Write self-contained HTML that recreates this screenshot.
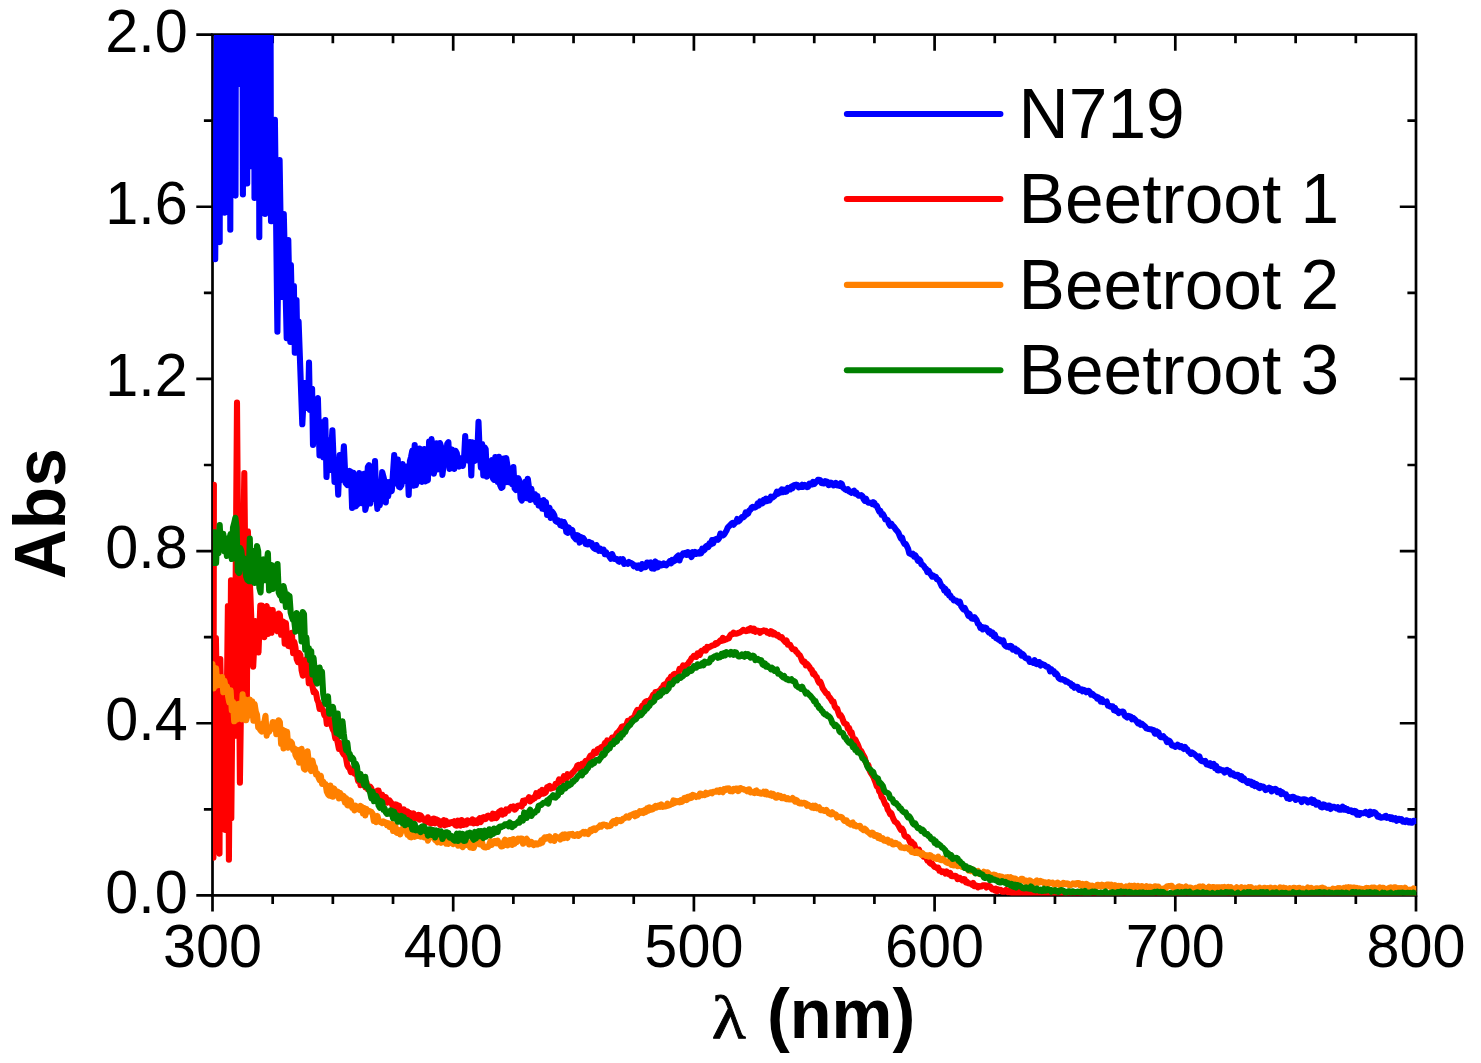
<!DOCTYPE html>
<html lang="en"><head><meta charset="utf-8"><title>UV-Vis absorbance: N719 vs Beetroot</title>
<style>html,body{margin:0;padding:0;background:#fff}svg{display:block}text{font-family:"Liberation Sans",Arial,Helvetica,sans-serif;fill:#000}.c{fill:none;stroke-width:6.1;stroke-linejoin:round;stroke-linecap:round}.lg{fill:none;stroke-width:6.1;stroke-linecap:round}</style></head><body>
<svg width="1481" height="1063" viewBox="0 0 1481 1063">
<rect width="1481" height="1063" fill="#fff"/>
<defs><clipPath id="fr"><rect x="212.90" y="35.00" width="1203.40" height="860.40"/></clipPath></defs>
<g fill="none" stroke="#000" stroke-width="2.7"><rect x="212.50" y="34.60" width="1203.50" height="860.80"/>
<path stroke-width="2.7" stroke-linecap="butt" d="M212.50 895.40 v16.20 M272.68 895.40 v8.60 M272.68 34.60 v8.60 M332.85 895.40 v8.60 M332.85 34.60 v8.60 M393.02 895.40 v8.60 M393.02 34.60 v8.60 M453.20 895.40 v16.20 M453.20 34.60 v16.20 M513.38 895.40 v8.60 M513.38 34.60 v8.60 M573.55 895.40 v8.60 M573.55 34.60 v8.60 M633.73 895.40 v8.60 M633.73 34.60 v8.60 M693.90 895.40 v16.20 M693.90 34.60 v16.20 M754.08 895.40 v8.60 M754.08 34.60 v8.60 M814.25 895.40 v8.60 M814.25 34.60 v8.60 M874.42 895.40 v8.60 M874.42 34.60 v8.60 M934.60 895.40 v16.20 M934.60 34.60 v16.20 M994.77 895.40 v8.60 M994.77 34.60 v8.60 M1054.95 895.40 v8.60 M1054.95 34.60 v8.60 M1115.12 895.40 v8.60 M1115.12 34.60 v8.60 M1175.30 895.40 v16.20 M1175.30 34.60 v16.20 M1235.47 895.40 v8.60 M1235.47 34.60 v8.60 M1295.65 895.40 v8.60 M1295.65 34.60 v8.60 M1355.83 895.40 v8.60 M1355.83 34.60 v8.60 M1416.00 895.40 v16.20 M212.50 895.40 h-16.20 M212.50 809.32 h-8.60 M1416.00 809.32 h-8.60 M212.50 723.24 h-16.20 M1416.00 723.24 h-16.20 M212.50 637.16 h-8.60 M1416.00 637.16 h-8.60 M212.50 551.08 h-16.20 M1416.00 551.08 h-16.20 M212.50 465.00 h-8.60 M1416.00 465.00 h-8.60 M212.50 378.92 h-16.20 M1416.00 378.92 h-16.20 M212.50 292.84 h-8.60 M1416.00 292.84 h-8.60 M212.50 206.76 h-16.20 M1416.00 206.76 h-16.20 M212.50 120.68 h-8.60 M1416.00 120.68 h-8.60 M212.50 34.60 h-16.20"/></g>
<g clip-path="url(#fr)">
<path class="c" stroke="#0000ff" d="M216.8 64.5 L215.2 259.2 L217.5 -30.0 L219.1 -30.0 L219.7 242.1 L220.3 -40.0 L224.0 -70.0 L224.6 212.8 L225.2 -80.0 L229.7 -45.0 L230.3 229.8 L230.9 -55.0 L234.9 -90.0 L235.5 195.6 L236.1 -100.0 L238.6 -25.0 L239.2 84.0 L239.8 -35.0 L242.3 -60.0 L242.9 194.4 L243.5 -70.0 L246.6 -30.0 L247.2 183.4 L247.8 -40.0 L250.3 -70.0 L250.9 166.3 L251.5 -80.0 L253.9 -45.0 L254.5 197.9 L255.1 -55.0 L258.7 -90.0 L259.3 237.2 L259.9 -100.0 L264.5 -25.0 L265.1 213.9 L265.7 -35.0 L270.4 -60.0 L271.0 221.3 L274.9 119.8 L277.4 331.6 L279.6 160.0 L281.8 297.0 L283.8 214.0 L286.7 338.2 L288.3 240.0 L290.3 342.0 L290.9 265.0 L292.5 335.0 L293.9 286.0 L294.8 352.8 L296.5 300.0 L297.3 345.0 L298.6 321.5 L302.3 424.3 L304.5 383.0 L306.6 408.0 L308.2 404.0 L309.0 362.6 L309.9 410.0 L312.1 388.7 L313.0 445.0 L315.5 415.0 L317.9 398.1 L319.5 455.4 L321.3 422.0 L323.4 457.3 L325.3 420.0 L326.5 477.0 L328.5 440.0 L330.0 470.0 L332.4 430.3 L334.5 482.0 L337.0 469.0 L338.2 494.6 L339.7 455.0 L341.5 480.0 L343.9 446.3 L345.6 483.0 L347.3 484.9 L348.5 474.2 L349.7 471.0 L350.9 472.1 L352.1 507.9 L353.3 472.7 L354.5 499.2 L355.7 506.3 L356.9 504.7 L358.1 503.9 L359.3 473.1 L360.5 481.9 L361.7 503.1 L362.9 498.6 L364.1 473.7 L365.3 509.9 L366.5 504.5 L367.8 467.1 L369.0 465.1 L370.2 503.5 L371.4 483.6 L372.6 470.3 L373.8 498.9 L375.0 461.1 L376.2 496.3 L377.4 508.9 L378.6 492.6 L379.8 505.2 L381.0 489.9 L382.2 472.1 L383.4 476.5 L384.6 481.6 L385.8 502.4 L387.0 482.1 L388.2 496.3 L389.4 482.1 L390.6 491.5 L391.8 490.9 L393.0 472.7 L394.2 455.1 L395.4 483.5 L396.6 474.2 L397.8 459.6 L399.0 486.9 L400.2 487.3 L401.4 485.3 L402.7 464.1 L403.9 473.9 L405.1 477.6 L406.3 481.3 L407.5 466.3 L408.7 494.9 L409.9 461.0 L411.1 456.7 L412.3 450.5 L413.5 485.7 L414.7 445.1 L415.9 485.1 L417.1 475.3 L418.3 481.4 L419.5 448.5 L420.7 480.6 L421.9 481.8 L423.1 475.1 L424.3 449.1 L425.5 481.4 L426.7 475.9 L427.9 480.2 L429.1 441.5 L430.3 447.2 L431.5 439.1 L432.7 450.3 L433.9 473.6 L435.1 461.4 L436.4 443.3 L437.6 469.4 L438.8 448.8 L440.0 443.1 L441.2 447.0 L442.4 474.9 L443.6 465.7 L444.8 449.7 L446.0 463.5 L447.2 444.0 L448.4 442.1 L449.6 468.9 L450.8 458.6 L452.0 449.6 L453.2 459.1 L454.4 468.9 L455.6 450.8 L456.8 453.1 L458.0 461.5 L459.2 466.6 L460.4 458.3 L461.6 462.4 L462.8 465.9 L464.0 459.5 L465.2 436.1 L466.4 459.8 L467.6 454.0 L468.8 460.8 L470.0 442.1 L471.3 475.4 L472.5 442.4 L473.7 443.0 L474.9 460.9 L476.1 444.1 L477.3 453.6 L478.5 421.9 L479.7 452.3 L480.9 467.6 L482.1 444.1 L483.3 475.4 L484.5 447.2 L485.7 449.1 L486.9 476.6 L488.1 462.8 L489.3 465.8 L490.5 462.4 L491.7 460.3 L492.9 478.3 L494.1 479.9 L495.3 457.1 L496.5 475.4 L497.7 482.0 L498.9 456.9 L500.1 485.0 L501.3 487.9 L502.5 487.2 L503.7 458.5 L505.0 482.4 L506.2 458.1 L507.4 465.6 L508.6 482.1 L509.8 480.9 L511.0 472.9 L512.2 484.2 L513.4 467.1 L514.6 488.4 L515.8 489.9 L517.0 480.3 L518.2 478.2 L519.4 480.6 L520.6 498.4 L521.8 500.6 L523.0 497.2 L524.2 487.8 L525.4 481.5 L526.6 498.1 L527.8 478.7 L529.0 487.3 L530.2 499.9 L531.4 488.9 L532.6 499.1 L533.8 497.1 L535.0 494.1 L536.2 502.3 L537.4 496.1 L538.6 505.6 L539.9 505.9 L541.1 501.1 L542.3 508.7 L543.5 500.1 L544.7 509.1 L545.9 502.1 L547.1 515.0 L548.3 512.5 L549.5 507.6 L550.7 518.0 L551.9 511.6 L553.1 513.0 L554.3 515.2 L555.5 521.0 L556.7 521.8 L557.9 520.2 L559.1 522.0 L560.3 525.2 L561.5 521.3 L562.7 526.2 L563.9 522.0 L565.1 524.6 L566.3 532.0 L567.5 532.8 L568.7 527.4 L569.9 531.9 L571.1 532.6 L572.3 530.0 L573.5 536.4 L574.8 537.8 L576.0 539.4 L577.2 535.1 L578.4 535.9 L579.6 542.6 L580.8 536.9 L582.0 540.3 L583.2 538.0 L584.4 539.7 L585.6 544.0 L586.8 544.2 L588.0 544.4 L589.2 542.0 L590.4 542.9 L591.6 543.0 L592.8 546.8 L594.0 548.2 L595.2 549.0 L596.4 545.0 L597.6 548.0 L598.8 550.8 L600.0 548.4 L601.2 550.9 L602.4 550.1 L603.6 549.6 L604.8 554.1 L606.0 552.1 L607.2 554.6 L608.5 554.7 L609.7 557.0 L610.9 558.8 L612.1 554.0 L613.3 556.9 L614.5 559.0 L615.7 558.7 L616.9 558.9 L618.1 561.1 L619.3 561.7 L620.5 559.3 L621.7 560.3 L622.9 559.2 L624.1 564.0 L625.3 562.3 L626.5 563.0 L627.7 563.8 L628.9 562.0 L630.1 562.9 L631.3 563.1 L632.5 563.8 L633.7 566.2 L634.9 565.4 L636.1 565.5 L637.3 567.8 L638.5 565.4 L639.7 567.7 L640.9 568.7 L642.1 564.0 L643.4 567.3 L644.6 565.5 L645.8 566.9 L647.0 562.5 L648.2 562.7 L649.4 563.0 L650.6 562.5 L651.8 568.5 L653.0 564.2 L654.2 568.7 L655.4 561.4 L656.6 564.7 L657.8 567.3 L659.0 563.5 L660.2 563.9 L661.4 565.4 L662.6 565.0 L663.8 563.5 L665.0 565.1 L666.2 565.4 L667.4 563.8 L668.6 562.8 L669.8 561.2 L671.0 563.4 L672.2 559.9 L673.4 561.4 L674.6 560.8 L675.8 558.0 L677.1 556.6 L678.3 555.6 L679.5 560.5 L680.7 555.7 L681.9 555.9 L683.1 553.4 L684.3 553.3 L685.5 552.8 L686.7 554.9 L687.9 552.1 L689.1 553.0 L690.3 555.1 L691.5 557.0 L692.7 552.2 L693.9 554.3 L695.1 551.9 L696.3 553.9 L697.5 552.9 L698.7 553.5 L699.9 551.6 L701.1 553.3 L702.3 548.6 L703.5 550.6 L704.7 549.6 L705.9 546.4 L707.1 545.7 L708.3 547.0 L709.5 543.3 L710.7 544.6 L712.0 540.0 L713.2 543.4 L714.4 539.8 L715.6 539.1 L716.8 538.8 L718.0 539.7 L719.2 538.0 L720.4 533.5 L721.6 535.2 L722.8 535.5 L724.0 534.7 L725.2 532.8 L726.4 530.8 L727.6 527.8 L728.8 526.4 L730.0 525.4 L731.2 523.9 L732.4 523.0 L733.6 524.7 L734.8 523.1 L736.0 522.3 L737.2 519.0 L738.4 521.4 L739.6 520.5 L740.8 518.8 L742.0 517.1 L743.2 517.4 L744.4 516.4 L745.7 512.4 L746.9 514.3 L748.1 513.5 L749.3 510.5 L750.5 509.7 L751.7 507.4 L752.9 506.8 L754.1 507.6 L755.3 507.4 L756.5 506.5 L757.7 503.3 L758.9 505.3 L760.1 501.4 L761.3 501.8 L762.5 503.2 L763.7 499.8 L764.9 501.5 L766.1 498.6 L767.3 501.1 L768.5 499.2 L769.7 500.3 L770.9 496.7 L772.1 497.6 L773.3 497.1 L774.5 496.0 L775.7 494.6 L776.9 491.7 L778.1 493.7 L779.3 491.5 L780.6 492.3 L781.8 489.3 L783.0 492.2 L784.2 489.8 L785.4 491.8 L786.6 491.5 L787.8 488.0 L789.0 489.1 L790.2 489.5 L791.4 486.6 L792.6 488.1 L793.8 485.2 L795.0 484.9 L796.2 484.6 L797.4 484.9 L798.6 487.3 L799.8 486.9 L801.0 486.9 L802.2 484.8 L803.4 486.7 L804.6 484.9 L805.8 486.2 L807.0 487.2 L808.2 486.8 L809.4 483.6 L810.6 483.9 L811.8 484.5 L813.0 481.8 L814.2 484.1 L815.5 482.5 L816.7 481.4 L817.9 479.9 L819.1 479.8 L820.3 480.2 L821.5 483.0 L822.7 483.3 L823.9 483.5 L825.1 481.2 L826.3 481.6 L827.5 481.8 L828.7 485.2 L829.9 484.7 L831.1 482.6 L832.3 483.5 L833.5 485.4 L834.7 484.5 L835.9 482.9 L837.1 485.5 L838.3 485.4 L839.5 485.8 L840.7 483.2 L841.9 484.2 L843.1 487.7 L844.3 488.6 L845.5 489.6 L846.7 490.2 L847.9 489.2 L849.2 491.5 L850.4 492.1 L851.6 492.8 L852.8 491.5 L854.0 490.6 L855.2 493.6 L856.4 492.7 L857.6 494.8 L858.8 495.7 L860.0 495.5 L861.2 495.1 L862.4 496.1 L863.6 499.2 L864.8 500.8 L866.0 498.7 L867.2 501.6 L868.4 502.7 L869.6 502.8 L870.8 502.7 L872.0 504.0 L873.2 502.1 L874.4 503.0 L875.6 505.6 L876.8 505.7 L878.0 508.8 L879.2 511.5 L880.4 511.0 L881.6 514.7 L882.8 513.9 L884.1 516.3 L885.3 519.5 L886.5 519.6 L887.7 520.1 L888.9 523.7 L890.1 525.7 L891.3 523.7 L892.5 525.6 L893.7 526.6 L894.9 528.2 L896.1 529.9 L897.3 531.2 L898.5 532.8 L899.7 535.9 L900.9 538.5 L902.1 537.6 L903.3 541.8 L904.5 543.9 L905.7 543.9 L906.9 546.2 L908.1 548.8 L909.3 553.4 L910.5 553.8 L911.7 554.5 L912.9 553.7 L914.1 556.6 L915.3 555.2 L916.5 557.2 L917.8 560.8 L919.0 559.3 L920.2 560.4 L921.4 564.4 L922.6 564.8 L923.8 565.9 L925.0 568.1 L926.2 568.9 L927.4 572.2 L928.6 570.7 L929.8 573.0 L931.0 574.6 L932.2 576.6 L933.4 575.7 L934.6 576.9 L935.8 576.7 L937.0 579.4 L938.2 579.7 L939.4 581.1 L940.6 583.9 L941.8 586.6 L943.0 586.7 L944.2 590.3 L945.4 588.8 L946.6 592.8 L947.8 591.4 L949.0 595.4 L950.2 595.3 L951.4 597.9 L952.7 598.3 L953.9 600.4 L955.1 600.6 L956.3 600.6 L957.5 602.0 L958.7 603.0 L959.9 601.8 L961.1 606.0 L962.3 607.8 L963.5 609.4 L964.7 607.9 L965.9 610.6 L967.1 612.5 L968.3 615.8 L969.5 613.8 L970.7 617.3 L971.9 618.6 L973.1 618.9 L974.3 617.1 L975.5 618.5 L976.7 620.3 L977.9 623.6 L979.1 624.3 L980.3 627.9 L981.5 626.9 L982.7 629.4 L983.9 627.4 L985.1 627.6 L986.4 628.1 L987.6 630.5 L988.8 632.4 L990.0 631.2 L991.2 633.9 L992.4 632.4 L993.6 636.1 L994.8 634.4 L996.0 638.2 L997.2 638.4 L998.4 639.6 L999.6 639.5 L1000.8 641.3 L1002.0 640.9 L1003.2 640.4 L1004.4 644.8 L1005.6 645.9 L1006.8 646.7 L1008.0 646.1 L1009.2 647.2 L1010.4 645.8 L1011.6 646.3 L1012.8 649.6 L1014.0 648.4 L1015.2 648.6 L1016.4 651.4 L1017.6 650.3 L1018.8 651.7 L1020.0 651.9 L1021.3 655.6 L1022.5 653.9 L1023.7 655.1 L1024.9 657.5 L1026.1 658.4 L1027.3 658.7 L1028.5 658.5 L1029.7 662.0 L1030.9 661.7 L1032.1 662.2 L1033.3 662.9 L1034.5 660.1 L1035.7 663.6 L1036.9 664.1 L1038.1 662.3 L1039.3 662.1 L1040.5 665.5 L1041.7 663.7 L1042.9 664.5 L1044.1 664.8 L1045.3 665.7 L1046.5 666.8 L1047.7 666.9 L1048.9 667.7 L1050.1 671.4 L1051.3 669.2 L1052.5 671.4 L1053.7 671.0 L1055.0 674.2 L1056.2 673.4 L1057.4 674.9 L1058.6 678.0 L1059.8 679.0 L1061.0 679.5 L1062.2 679.0 L1063.4 680.0 L1064.6 680.1 L1065.8 681.7 L1067.0 681.3 L1068.2 682.3 L1069.4 683.1 L1070.6 683.5 L1071.8 685.9 L1073.0 685.3 L1074.2 687.7 L1075.4 687.1 L1076.6 686.7 L1077.8 687.0 L1079.0 689.9 L1080.2 690.1 L1081.4 689.5 L1082.6 691.3 L1083.8 689.9 L1085.0 690.3 L1086.2 692.2 L1087.4 691.0 L1088.6 690.8 L1089.9 692.0 L1091.1 694.7 L1092.3 693.8 L1093.5 694.9 L1094.7 696.2 L1095.9 696.2 L1097.1 698.5 L1098.3 697.4 L1099.5 698.5 L1100.7 701.5 L1101.9 699.2 L1103.1 702.1 L1104.3 701.8 L1105.5 702.0 L1106.7 701.5 L1107.9 705.6 L1109.1 705.6 L1110.3 706.7 L1111.5 706.4 L1112.7 706.3 L1113.9 710.2 L1115.1 708.0 L1116.3 711.1 L1117.5 710.9 L1118.7 713.1 L1119.9 711.9 L1121.1 712.2 L1122.3 711.5 L1123.5 711.9 L1124.8 715.7 L1126.0 716.6 L1127.2 717.5 L1128.4 715.9 L1129.6 716.3 L1130.8 716.6 L1132.0 719.3 L1133.2 717.9 L1134.4 719.0 L1135.6 720.2 L1136.8 721.7 L1138.0 723.3 L1139.2 722.4 L1140.4 724.7 L1141.6 723.6 L1142.8 724.7 L1144.0 725.7 L1145.2 726.7 L1146.4 728.3 L1147.6 728.7 L1148.8 729.0 L1150.0 729.2 L1151.2 729.2 L1152.4 730.1 L1153.6 730.0 L1154.8 733.5 L1156.0 731.1 L1157.2 733.7 L1158.5 732.4 L1159.7 735.9 L1160.9 737.3 L1162.1 737.2 L1163.3 736.2 L1164.5 738.0 L1165.7 738.5 L1166.9 742.0 L1168.1 740.2 L1169.3 740.7 L1170.5 742.3 L1171.7 745.2 L1172.9 745.8 L1174.1 745.6 L1175.3 746.8 L1176.5 746.4 L1177.7 744.7 L1178.9 745.5 L1180.1 747.0 L1181.3 746.2 L1182.5 747.7 L1183.7 748.9 L1184.9 746.9 L1186.1 748.5 L1187.3 749.3 L1188.5 751.6 L1189.7 752.2 L1190.9 753.9 L1192.1 752.5 L1193.4 753.3 L1194.6 754.3 L1195.8 755.4 L1197.0 756.8 L1198.2 757.8 L1199.4 756.5 L1200.6 760.4 L1201.8 761.1 L1203.0 760.8 L1204.2 761.7 L1205.4 761.0 L1206.6 764.4 L1207.8 763.5 L1209.0 765.1 L1210.2 763.3 L1211.4 766.0 L1212.6 765.3 L1213.8 764.0 L1215.0 768.1 L1216.2 765.9 L1217.4 770.3 L1218.6 770.5 L1219.8 769.2 L1221.0 769.9 L1222.2 770.5 L1223.4 770.3 L1224.6 772.6 L1225.8 770.4 L1227.1 769.8 L1228.3 771.8 L1229.5 771.2 L1230.7 774.4 L1231.9 773.4 L1233.1 773.2 L1234.3 775.7 L1235.5 776.1 L1236.7 774.8 L1237.9 774.8 L1239.1 777.4 L1240.3 778.7 L1241.5 776.3 L1242.7 780.2 L1243.9 778.3 L1245.1 780.5 L1246.3 781.6 L1247.5 782.8 L1248.7 781.3 L1249.9 783.2 L1251.1 781.6 L1252.3 784.9 L1253.5 782.6 L1254.7 786.0 L1255.9 784.0 L1257.1 784.7 L1258.3 787.2 L1259.5 788.1 L1260.7 786.0 L1262.0 787.4 L1263.2 786.7 L1264.4 787.7 L1265.6 790.1 L1266.8 789.3 L1268.0 788.7 L1269.2 787.7 L1270.4 788.2 L1271.6 791.4 L1272.8 789.1 L1274.0 790.0 L1275.2 788.8 L1276.4 789.4 L1277.6 792.3 L1278.8 792.1 L1280.0 791.1 L1281.2 794.2 L1282.4 792.3 L1283.6 793.6 L1284.8 794.3 L1286.0 794.4 L1287.2 798.1 L1288.4 796.9 L1289.6 798.9 L1290.8 798.3 L1292.0 797.0 L1293.2 796.7 L1294.4 797.7 L1295.7 799.9 L1296.9 798.5 L1298.1 798.8 L1299.3 799.2 L1300.5 799.7 L1301.7 802.1 L1302.9 799.3 L1304.1 799.3 L1305.3 799.5 L1306.5 800.2 L1307.7 802.4 L1308.9 801.8 L1310.1 800.3 L1311.3 799.4 L1312.5 802.8 L1313.7 800.1 L1314.9 801.6 L1316.1 804.6 L1317.3 802.6 L1318.5 802.8 L1319.7 805.2 L1320.9 806.9 L1322.1 807.3 L1323.3 804.4 L1324.5 804.7 L1325.7 807.0 L1326.9 807.7 L1328.1 805.5 L1329.3 805.6 L1330.6 809.0 L1331.8 806.7 L1333.0 806.7 L1334.2 806.8 L1335.4 807.8 L1336.6 808.4 L1337.8 807.3 L1339.0 809.8 L1340.2 809.8 L1341.4 809.7 L1342.6 806.7 L1343.8 809.6 L1345.0 807.9 L1346.2 809.9 L1347.4 809.2 L1348.6 811.0 L1349.8 810.5 L1351.0 810.4 L1352.2 812.0 L1353.4 812.4 L1354.6 810.9 L1355.8 811.2 L1357.0 814.7 L1358.2 812.7 L1359.4 814.9 L1360.6 813.1 L1361.8 813.3 L1363.0 813.3 L1364.2 812.9 L1365.5 812.0 L1366.7 813.5 L1367.9 812.7 L1369.1 815.0 L1370.3 811.7 L1371.5 814.1 L1372.7 812.9 L1373.9 812.0 L1375.1 812.5 L1376.3 814.0 L1377.5 816.5 L1378.7 815.7 L1379.9 817.4 L1381.1 817.7 L1382.3 817.4 L1383.5 817.3 L1384.7 816.4 L1385.9 815.9 L1387.1 817.8 L1388.3 817.2 L1389.5 817.1 L1390.7 818.9 L1391.9 817.4 L1393.1 819.4 L1394.3 819.6 L1395.5 818.3 L1396.7 820.8 L1397.9 819.0 L1399.2 818.8 L1400.4 820.0 L1401.6 819.2 L1402.8 821.7 L1404.0 821.2 L1405.2 822.0 L1406.4 820.3 L1407.6 820.6 L1408.8 822.4 L1410.0 821.3 L1411.2 822.8 L1412.4 822.7 L1413.6 820.8 L1414.8 821.1 L1416.0 821.0"/>
<path class="c" stroke="#ff0000" d="M213.9 484.8 L213.4 857.8 L215.9 638.0 L219.5 853.6 L220.3 659.0 L223.2 800.0 L224.0 680.0 L225.3 830.0 L227.9 606.0 L228.9 859.7 L231.0 580.4 L231.3 818.2 L233.5 580.4 L234.5 736.0 L237.0 402.5 L239.9 782.7 L244.3 473.0 L246.8 712.0 L247.9 531.3 L253.2 666.7 L255.4 621.0 L258.5 652.4 L260.3 605.6 L261.8 605.6 L263.0 612.1 L264.3 637.2 L265.5 614.1 L266.7 606.0 L267.9 634.0 L269.1 617.4 L270.3 609.8 L271.5 632.8 L272.7 610.0 L273.9 627.5 L275.1 615.0 L276.3 615.4 L277.5 631.2 L278.7 613.5 L279.9 615.0 L281.1 634.8 L282.3 623.6 L283.5 621.8 L284.7 643.7 L285.9 623.0 L287.1 637.9 L288.3 646.1 L289.5 646.3 L290.7 636.9 L291.9 632.8 L293.1 653.1 L294.3 641.8 L295.5 647.7 L296.7 659.1 L297.9 662.1 L299.2 653.1 L300.4 654.9 L301.6 670.4 L302.8 675.7 L304.0 661.3 L305.2 670.6 L306.4 659.1 L307.6 667.4 L308.8 683.2 L310.0 673.1 L311.2 678.1 L312.4 686.1 L313.6 692.2 L314.8 691.3 L316.0 693.0 L317.2 699.8 L318.4 702.4 L319.6 709.0 L320.8 704.9 L322.0 708.3 L323.2 710.6 L324.4 715.2 L325.6 713.5 L326.8 724.0 L328.0 715.0 L329.2 719.4 L330.4 723.9 L331.6 725.6 L332.9 729.7 L334.1 731.6 L335.3 738.5 L336.5 738.3 L337.7 742.6 L338.9 749.0 L340.1 743.0 L341.3 749.1 L342.5 752.5 L343.7 754.6 L344.9 754.1 L346.1 758.5 L347.3 765.3 L348.5 767.5 L349.7 768.5 L350.9 772.3 L352.1 772.1 L353.3 770.3 L354.5 773.6 L355.7 772.7 L356.9 774.8 L358.1 781.0 L359.3 776.7 L360.5 785.2 L361.7 778.7 L362.9 782.0 L364.1 782.2 L365.3 787.3 L366.5 782.2 L367.8 789.1 L369.0 786.3 L370.2 786.7 L371.4 788.5 L372.6 792.7 L373.8 793.3 L375.0 793.8 L376.2 793.0 L377.4 790.5 L378.6 790.5 L379.8 796.5 L381.0 798.0 L382.2 794.7 L383.4 798.2 L384.6 798.7 L385.8 797.1 L387.0 802.7 L388.2 800.7 L389.4 800.3 L390.6 802.0 L391.8 803.8 L393.0 806.9 L394.2 807.7 L395.4 804.3 L396.6 804.7 L397.8 810.0 L399.0 805.7 L400.2 811.2 L401.4 810.3 L402.7 813.0 L403.9 809.5 L405.1 812.0 L406.3 815.4 L407.5 811.5 L408.7 816.7 L409.9 812.9 L411.1 816.1 L412.3 817.3 L413.5 813.4 L414.7 819.0 L415.9 815.4 L417.1 815.3 L418.3 814.9 L419.5 819.7 L420.7 815.4 L421.9 817.1 L423.1 819.4 L424.3 820.1 L425.5 821.8 L426.7 822.1 L427.9 817.3 L429.1 822.7 L430.3 822.9 L431.5 823.4 L432.7 818.7 L433.9 818.6 L435.1 823.3 L436.4 819.4 L437.6 820.1 L438.8 820.7 L440.0 824.9 L441.2 824.9 L442.4 821.3 L443.6 820.3 L444.8 825.3 L446.0 820.8 L447.2 824.3 L448.4 822.5 L449.6 823.7 L450.8 822.2 L452.0 822.1 L453.2 823.4 L454.4 821.3 L455.6 825.5 L456.8 825.7 L458.0 820.7 L459.2 824.5 L460.4 825.5 L461.6 820.1 L462.8 825.0 L464.0 824.7 L465.2 821.3 L466.4 824.4 L467.6 820.5 L468.8 821.9 L470.0 822.6 L471.3 822.7 L472.5 819.3 L473.7 823.4 L474.9 820.3 L476.1 821.1 L477.3 823.1 L478.5 819.6 L479.7 818.2 L480.9 822.0 L482.1 817.7 L483.3 817.2 L484.5 819.2 L485.7 819.0 L486.9 816.4 L488.1 815.6 L489.3 817.0 L490.5 816.1 L491.7 818.7 L492.9 813.7 L494.1 818.1 L495.3 814.2 L496.5 818.0 L497.7 815.9 L498.9 811.9 L500.1 811.2 L501.3 810.5 L502.5 814.7 L503.7 811.8 L505.0 813.5 L506.2 809.4 L507.4 810.3 L508.6 810.6 L509.8 808.3 L511.0 806.9 L512.2 807.7 L513.4 806.4 L514.6 809.7 L515.8 808.8 L517.0 806.4 L518.2 805.6 L519.4 806.0 L520.6 805.4 L521.8 806.4 L523.0 800.8 L524.2 803.5 L525.4 800.2 L526.6 799.8 L527.8 799.4 L529.0 797.1 L530.2 801.3 L531.4 800.1 L532.6 799.7 L533.8 797.3 L535.0 798.0 L536.2 793.2 L537.4 793.8 L538.6 796.0 L539.9 791.7 L541.1 793.8 L542.3 789.8 L543.5 793.5 L544.7 793.1 L545.9 792.1 L547.1 787.2 L548.3 786.8 L549.5 785.9 L550.7 788.6 L551.9 788.2 L553.1 787.9 L554.3 787.6 L555.5 783.9 L556.7 784.0 L557.9 782.7 L559.1 779.4 L560.3 780.7 L561.5 782.0 L562.7 780.0 L563.9 776.2 L565.1 778.1 L566.3 778.9 L567.5 774.2 L568.7 776.5 L569.9 775.1 L571.1 774.9 L572.3 772.8 L573.5 771.8 L574.8 770.2 L576.0 768.8 L577.2 765.8 L578.4 764.9 L579.6 768.2 L580.8 767.4 L582.0 763.9 L583.2 765.7 L584.4 763.2 L585.6 760.9 L586.8 762.1 L588.0 761.1 L589.2 758.0 L590.4 755.7 L591.6 756.1 L592.8 755.4 L594.0 751.7 L595.2 752.9 L596.4 753.0 L597.6 749.1 L598.8 748.8 L600.0 748.4 L601.2 747.2 L602.4 747.6 L603.6 747.0 L604.8 743.2 L606.0 744.4 L607.2 740.5 L608.5 742.6 L609.7 741.4 L610.9 740.6 L612.1 737.6 L613.3 738.2 L614.5 737.0 L615.7 735.6 L616.9 732.9 L618.1 732.7 L619.3 730.6 L620.5 729.1 L621.7 726.9 L622.9 726.4 L624.1 728.0 L625.3 726.4 L626.5 724.5 L627.7 720.9 L628.9 722.0 L630.1 721.1 L631.3 718.5 L632.5 718.4 L633.7 717.2 L634.9 715.2 L636.1 712.1 L637.3 709.9 L638.5 711.5 L639.7 709.9 L640.9 708.8 L642.1 705.9 L643.4 706.4 L644.6 702.7 L645.8 701.6 L647.0 701.1 L648.2 701.0 L649.4 700.9 L650.6 699.2 L651.8 697.7 L653.0 694.8 L654.2 695.9 L655.4 692.0 L656.6 692.1 L657.8 691.7 L659.0 691.0 L660.2 690.5 L661.4 688.2 L662.6 687.9 L663.8 684.6 L665.0 684.3 L666.2 684.0 L667.4 682.0 L668.6 679.7 L669.8 680.1 L671.0 676.6 L672.2 678.4 L673.4 674.6 L674.6 673.8 L675.8 675.2 L677.1 674.3 L678.3 673.1 L679.5 668.9 L680.7 669.8 L681.9 668.6 L683.1 665.4 L684.3 666.9 L685.5 665.9 L686.7 664.8 L687.9 664.0 L689.1 661.9 L690.3 660.7 L691.5 658.2 L692.7 657.6 L693.9 655.8 L695.1 656.1 L696.3 656.9 L697.5 653.4 L698.7 653.3 L699.9 654.8 L701.1 651.2 L702.3 650.5 L703.5 650.6 L704.7 648.9 L705.9 650.5 L707.1 646.9 L708.3 647.9 L709.5 646.9 L710.7 646.5 L712.0 645.6 L713.2 645.4 L714.4 645.1 L715.6 643.1 L716.8 643.8 L718.0 642.8 L719.2 641.7 L720.4 640.4 L721.6 640.9 L722.8 637.8 L724.0 640.2 L725.2 639.3 L726.4 639.4 L727.6 638.4 L728.8 638.4 L730.0 635.7 L731.2 634.2 L732.4 634.3 L733.6 632.6 L734.8 633.6 L736.0 633.8 L737.2 633.6 L738.4 632.7 L739.6 632.6 L740.8 631.9 L742.0 631.0 L743.2 629.8 L744.4 630.4 L745.7 631.1 L746.9 631.0 L748.1 629.5 L749.3 630.4 L750.5 628.2 L751.7 628.6 L752.9 630.9 L754.1 628.6 L755.3 631.8 L756.5 631.3 L757.7 630.5 L758.9 631.3 L760.1 632.9 L761.3 631.1 L762.5 631.3 L763.7 630.4 L764.9 630.8 L766.1 630.9 L767.3 632.7 L768.5 632.8 L769.7 633.7 L770.9 631.2 L772.1 631.9 L773.3 634.4 L774.5 633.0 L775.7 634.5 L776.9 635.7 L778.1 635.0 L779.3 637.1 L780.6 637.6 L781.8 637.1 L783.0 639.5 L784.2 640.8 L785.4 642.1 L786.6 640.6 L787.8 644.6 L789.0 644.3 L790.2 645.0 L791.4 647.5 L792.6 649.3 L793.8 649.3 L795.0 649.5 L796.2 651.7 L797.4 652.6 L798.6 654.5 L799.8 655.3 L801.0 657.8 L802.2 660.9 L803.4 662.3 L804.6 661.6 L805.8 665.3 L807.0 663.9 L808.2 665.3 L809.4 666.8 L810.6 669.3 L811.8 669.8 L813.0 673.9 L814.2 673.2 L815.5 676.0 L816.7 677.1 L817.9 680.5 L819.1 682.7 L820.3 681.7 L821.5 684.7 L822.7 688.3 L823.9 690.1 L825.1 691.8 L826.3 693.5 L827.5 693.7 L828.7 696.5 L829.9 697.7 L831.1 699.5 L832.3 701.7 L833.5 701.5 L834.7 706.2 L835.9 708.0 L837.1 708.5 L838.3 712.4 L839.5 715.6 L840.7 715.2 L841.9 717.1 L843.1 720.5 L844.3 723.4 L845.5 723.8 L846.7 724.3 L847.9 728.6 L849.2 728.2 L850.4 733.1 L851.6 732.3 L852.8 737.3 L854.0 739.6 L855.2 739.3 L856.4 741.9 L857.6 744.2 L858.8 747.2 L860.0 750.7 L861.2 750.9 L862.4 753.6 L863.6 755.7 L864.8 758.0 L866.0 762.7 L867.2 765.0 L868.4 765.1 L869.6 770.4 L870.8 773.0 L872.0 774.6 L873.2 776.6 L874.4 779.5 L875.6 782.5 L876.8 786.4 L878.0 786.6 L879.2 791.3 L880.4 792.3 L881.6 797.0 L882.8 798.2 L884.1 801.4 L885.3 804.5 L886.5 805.0 L887.7 809.6 L888.9 811.2 L890.1 814.2 L891.3 813.3 L892.5 816.6 L893.7 819.6 L894.9 821.7 L896.1 822.4 L897.3 823.4 L898.5 825.5 L899.7 827.9 L900.9 829.8 L902.1 828.8 L903.3 830.8 L904.5 835.4 L905.7 836.7 L906.9 836.5 L908.1 837.6 L909.3 840.4 L910.5 842.8 L911.7 841.7 L912.9 843.8 L914.1 844.0 L915.3 847.7 L916.5 849.0 L917.8 849.9 L919.0 849.6 L920.2 853.0 L921.4 852.9 L922.6 855.2 L923.8 856.8 L925.0 857.0 L926.2 857.5 L927.4 860.5 L928.6 859.4 L929.8 863.0 L931.0 864.0 L932.2 863.7 L933.4 865.6 L934.6 867.0 L935.8 867.0 L937.0 868.2 L938.2 867.7 L939.4 870.8 L940.6 870.9 L941.8 872.1 L943.0 871.4 L944.2 871.7 L945.4 873.5 L946.6 871.4 L947.8 873.1 L949.0 874.3 L950.2 873.0 L951.4 876.0 L952.7 876.3 L953.9 875.9 L955.1 875.7 L956.3 876.3 L957.5 879.2 L958.7 877.8 L959.9 877.8 L961.1 879.3 L962.3 880.3 L963.5 879.1 L964.7 879.3 L965.9 882.4 L967.1 881.8 L968.3 883.3 L969.5 883.5 L970.7 883.7 L971.9 884.7 L973.1 882.9 L974.3 886.1 L975.5 885.2 L976.7 885.8 L977.9 887.3 L979.1 886.0 L980.3 886.6 L981.5 886.4 L982.7 885.4 L983.9 885.4 L985.1 885.4 L986.4 887.5 L987.6 885.7 L988.8 886.1 L990.0 886.3 L991.2 888.0 L992.4 889.4 L993.6 888.9 L994.8 890.4 L996.0 888.8 L997.2 891.3 L998.4 889.5 L999.6 890.4 L1000.8 889.8 L1002.0 891.7 L1003.2 891.4 L1004.4 891.7 L1005.6 890.1 L1006.8 890.1 L1008.0 892.2 L1009.2 890.6 L1010.4 892.5 L1011.6 892.9 L1012.8 891.3 L1014.0 893.2 L1015.2 893.0 L1016.4 893.4 L1017.6 891.5 L1018.8 893.7 L1020.0 891.7 L1021.3 892.5 L1022.5 892.0 L1023.7 893.9 L1024.9 893.7 L1026.1 894.0 L1027.3 894.0 L1028.5 893.7 L1029.7 893.3 L1030.9 893.2 L1032.1 893.8 L1033.3 894.2 L1034.5 893.2 L1035.7 893.3 L1036.9 894.8 L1038.1 893.4 L1039.3 895.2 L1040.5 893.7 L1041.7 895.5 L1042.9 894.9 L1044.1 895.4 L1045.3 894.7 L1046.5 895.7 L1047.7 895.2 L1048.9 893.8 L1050.1 895.7 L1051.3 896.0 L1052.5 894.4 L1053.7 895.1 L1055.0 896.4 L1056.2 896.4 L1057.4 896.2 L1058.6 895.3 L1059.8 896.1 L1061.0 894.6 L1062.2 896.1 L1063.4 894.8 L1064.6 896.5 L1065.8 895.0 L1067.0 895.1 L1068.2 895.0 L1069.4 895.1 L1070.6 895.8 L1071.8 895.5 L1073.0 896.5 L1074.2 895.1 L1075.4 895.1 L1076.6 896.4 L1077.8 895.4 L1079.0 896.8 L1080.2 897.0 L1081.4 897.4 L1082.6 895.9 L1083.8 896.0 L1085.0 896.4 L1086.2 896.7 L1087.4 895.9 L1088.6 897.0 L1089.9 896.2 L1091.1 896.2 L1092.3 896.3 L1093.5 897.5 L1094.7 896.9 L1095.9 896.8 L1097.1 896.0 L1098.3 897.9 L1099.5 896.1 L1100.7 897.0 L1101.9 897.5 L1103.1 896.2 L1104.3 897.5 L1105.5 896.7 L1106.7 896.8 L1107.9 897.6 L1109.1 895.8 L1110.3 895.8 L1111.5 896.1 L1112.7 895.6 L1113.9 895.6 L1115.1 896.5 L1116.3 896.7 L1117.5 897.2 L1118.7 896.3 L1119.9 896.2 L1121.1 898.1 L1122.3 896.3 L1123.5 897.4 L1124.8 896.8 L1126.0 896.2 L1127.2 897.8 L1128.4 897.7 L1129.6 896.0 L1130.8 897.2 L1132.0 896.5 L1133.2 895.9 L1134.4 896.8 L1135.6 897.6 L1136.8 895.7 L1138.0 895.8 L1139.2 895.6 L1140.4 896.3 L1141.6 896.1 L1142.8 895.8 L1144.0 897.5 L1145.2 897.4 L1146.4 897.2 L1147.6 896.9 L1148.8 897.4 L1150.0 895.9 L1151.2 895.7 L1152.4 897.1 L1153.6 897.3 L1154.8 897.1 L1156.0 895.6 L1157.2 895.7 L1158.5 895.8 L1159.7 896.7 L1160.9 896.3 L1162.1 897.5 L1163.3 896.1 L1164.5 896.3 L1165.7 896.3 L1166.9 898.4 L1168.1 896.8 L1169.3 898.0 L1170.5 897.7 L1171.7 898.3 L1172.9 898.3 L1174.1 896.5 L1175.3 898.0 L1176.5 896.3 L1177.7 895.9 L1178.9 897.6 L1180.1 897.4 L1181.3 895.9 L1182.5 897.1 L1183.7 897.8 L1184.9 897.8 L1186.1 896.9 L1187.3 896.6 L1188.5 898.0 L1189.7 898.2 L1190.9 897.3 L1192.1 896.5 L1193.4 896.5 L1194.6 898.2 L1195.8 898.3 L1197.0 897.9 L1198.2 898.0 L1199.4 896.5 L1200.6 897.6 L1201.8 896.2 L1203.0 897.4 L1204.2 897.0 L1205.4 896.6 L1206.6 896.3 L1207.8 897.6 L1209.0 896.1 L1210.2 898.0 L1211.4 896.7 L1212.6 898.0 L1213.8 896.3 L1215.0 897.9 L1216.2 896.2 L1217.4 896.2 L1218.6 897.4 L1219.8 896.8 L1221.0 897.8 L1222.2 896.2 L1223.4 896.5 L1224.6 897.3 L1225.8 897.3 L1227.1 897.4 L1228.3 897.8 L1229.5 897.3 L1230.7 896.7 L1231.9 897.8 L1233.1 895.9 L1234.3 895.8 L1235.5 897.5 L1236.7 897.0 L1237.9 897.3 L1239.1 896.3 L1240.3 898.1 L1241.5 897.9 L1242.7 898.4 L1243.9 896.8 L1245.1 896.8 L1246.3 896.9 L1247.5 897.0 L1248.7 897.7 L1249.9 896.4 L1251.1 897.4 L1252.3 897.6 L1253.5 897.6 L1254.7 896.0 L1255.9 896.2 L1257.1 897.8 L1258.3 896.4 L1259.5 896.7 L1260.7 897.0 L1262.0 896.2 L1263.2 897.0 L1264.4 897.6 L1265.6 897.0 L1266.8 897.7 L1268.0 896.1 L1269.2 896.5 L1270.4 897.1 L1271.6 897.2 L1272.8 897.4 L1274.0 897.9 L1275.2 896.4 L1276.4 896.4 L1277.6 896.2 L1278.8 897.0 L1280.0 897.4 L1281.2 897.3 L1282.4 897.6 L1283.6 896.2 L1284.8 897.9 L1286.0 896.9 L1287.2 897.9 L1288.4 897.7 L1289.6 897.7 L1290.8 897.5 L1292.0 896.0 L1293.2 897.5 L1294.4 897.9 L1295.7 896.4 L1296.9 896.6 L1298.1 896.3 L1299.3 898.1 L1300.5 896.1 L1301.7 896.0 L1302.9 895.9 L1304.1 897.5 L1305.3 897.1 L1306.5 897.1 L1307.7 896.4 L1308.9 896.8 L1310.1 896.6 L1311.3 897.3 L1312.5 897.9 L1313.7 896.9 L1314.9 896.9 L1316.1 897.7 L1317.3 896.1 L1318.5 897.9 L1319.7 896.9 L1320.9 897.6 L1322.1 896.5 L1323.3 897.6 L1324.5 897.4 L1325.7 896.9 L1326.9 897.9 L1328.1 896.1 L1329.3 898.1 L1330.6 897.7 L1331.8 897.6 L1333.0 898.2 L1334.2 897.6 L1335.4 896.9 L1336.6 897.5 L1337.8 896.4 L1339.0 897.7 L1340.2 896.2 L1341.4 897.7 L1342.6 896.6 L1343.8 896.5 L1345.0 897.2 L1346.2 896.1 L1347.4 896.0 L1348.6 896.6 L1349.8 897.4 L1351.0 897.1 L1352.2 897.9 L1353.4 896.4 L1354.6 896.3 L1355.8 896.3 L1357.0 897.9 L1358.2 896.9 L1359.4 897.3 L1360.6 897.8 L1361.8 898.2 L1363.0 897.1 L1364.2 896.5 L1365.5 896.4 L1366.7 897.4 L1367.9 897.6 L1369.1 897.6 L1370.3 898.2 L1371.5 898.0 L1372.7 897.0 L1373.9 898.4 L1375.1 897.6 L1376.3 896.8 L1377.5 897.0 L1378.7 897.3 L1379.9 897.2 L1381.1 897.5 L1382.3 896.9 L1383.5 897.9 L1384.7 898.2 L1385.9 896.4 L1387.1 898.3 L1388.3 898.0 L1389.5 897.7 L1390.7 897.3 L1391.9 897.8 L1393.1 897.4 L1394.3 897.4 L1395.5 897.5 L1396.7 896.6 L1397.9 898.1 L1399.2 897.8 L1400.4 897.8 L1401.6 898.7 L1402.8 899.0 L1404.0 898.4 L1405.2 898.3 L1406.4 898.3 L1407.6 897.4 L1408.8 898.2 L1410.0 896.3 L1411.2 897.4 L1412.4 897.5 L1413.6 898.1 L1414.8 897.6 L1416.0 898.1"/>
<path class="c" stroke="#ff8000" d="M212.5 664.0 L213.7 688.4 L214.9 685.4 L216.1 668.4 L217.3 685.5 L218.5 678.9 L219.7 677.4 L220.9 685.3 L222.1 677.0 L223.3 692.2 L224.5 680.9 L225.7 688.2 L226.9 686.4 L228.1 696.4 L229.3 702.5 L230.6 690.4 L231.8 710.4 L233.0 701.8 L234.2 721.2 L235.4 704.0 L236.6 719.8 L237.8 707.8 L239.0 704.0 L240.2 718.8 L241.4 719.3 L242.6 694.4 L243.8 717.6 L245.0 699.4 L246.2 720.2 L247.4 715.5 L248.6 711.6 L249.8 699.5 L251.0 715.2 L252.2 701.3 L253.4 720.6 L254.6 704.0 L255.8 711.6 L257.0 714.6 L258.2 727.4 L259.4 728.4 L260.6 730.4 L261.8 731.6 L263.0 723.2 L264.3 722.3 L265.5 715.8 L266.7 735.6 L267.9 727.0 L269.1 731.8 L270.3 729.4 L271.5 728.9 L272.7 722.1 L273.9 725.7 L275.1 722.5 L276.3 734.1 L277.5 733.3 L278.7 720.2 L279.9 722.1 L281.1 743.8 L282.3 729.6 L283.5 748.4 L284.7 730.8 L285.9 747.0 L287.1 731.9 L288.3 747.7 L289.5 741.8 L290.7 741.5 L291.9 743.1 L293.1 749.9 L294.3 748.2 L295.5 754.9 L296.7 757.4 L297.9 749.9 L299.2 762.7 L300.4 757.9 L301.6 748.8 L302.8 761.6 L304.0 768.8 L305.2 769.5 L306.4 763.9 L307.6 751.4 L308.8 762.6 L310.0 768.8 L311.2 771.1 L312.4 760.5 L313.6 765.7 L314.8 767.2 L316.0 774.5 L317.2 773.4 L318.4 777.3 L319.6 780.2 L320.8 775.8 L322.0 783.9 L323.2 781.6 L324.4 784.2 L325.6 784.1 L326.8 791.8 L328.0 794.3 L329.2 795.5 L330.4 785.5 L331.6 796.4 L332.9 796.7 L334.1 788.4 L335.3 792.5 L336.5 795.5 L337.7 791.7 L338.9 798.5 L340.1 793.0 L341.3 795.9 L342.5 798.4 L343.7 795.9 L344.9 802.4 L346.1 798.3 L347.3 805.2 L348.5 805.5 L349.7 800.3 L350.9 800.9 L352.1 807.8 L353.3 806.9 L354.5 810.4 L355.7 805.7 L356.9 808.8 L358.1 807.5 L359.3 809.7 L360.5 806.0 L361.7 806.8 L362.9 813.5 L364.1 808.1 L365.3 815.5 L366.5 809.1 L367.8 811.8 L369.0 811.1 L370.2 811.3 L371.4 812.0 L372.6 813.6 L373.8 821.0 L375.0 818.8 L376.2 822.2 L377.4 815.9 L378.6 820.0 L379.8 821.3 L381.0 822.4 L382.2 823.1 L383.4 821.5 L384.6 822.2 L385.8 822.5 L387.0 825.2 L388.2 823.2 L389.4 826.9 L390.6 825.9 L391.8 823.9 L393.0 830.9 L394.2 825.2 L395.4 826.4 L396.6 832.7 L397.8 833.0 L399.0 830.1 L400.2 834.4 L401.4 831.3 L402.7 828.3 L403.9 828.3 L405.1 830.1 L406.3 828.9 L407.5 834.9 L408.7 831.3 L409.9 837.1 L411.1 837.4 L412.3 834.8 L413.5 831.2 L414.7 836.8 L415.9 836.3 L417.1 833.8 L418.3 835.8 L419.5 832.2 L420.7 836.7 L421.9 835.3 L423.1 833.6 L424.3 837.4 L425.5 835.8 L426.7 833.6 L427.9 840.7 L429.1 837.8 L430.3 837.4 L431.5 836.8 L432.7 834.6 L433.9 837.3 L435.1 840.0 L436.4 840.7 L437.6 842.3 L438.8 838.3 L440.0 836.0 L441.2 842.8 L442.4 840.8 L443.6 839.2 L444.8 840.0 L446.0 843.6 L447.2 840.0 L448.4 843.9 L449.6 839.7 L450.8 842.9 L452.0 841.2 L453.2 844.1 L454.4 843.0 L455.6 838.9 L456.8 842.5 L458.0 845.7 L459.2 845.1 L460.4 841.0 L461.6 846.1 L462.8 847.1 L464.0 844.3 L465.2 842.0 L466.4 842.1 L467.6 845.0 L468.8 842.2 L470.0 847.4 L471.3 843.4 L472.5 848.0 L473.7 848.0 L474.9 844.9 L476.1 841.4 L477.3 841.2 L478.5 841.6 L479.7 844.4 L480.9 841.1 L482.1 842.5 L483.3 846.6 L484.5 847.3 L485.7 847.5 L486.9 846.7 L488.1 846.9 L489.3 844.2 L490.5 841.1 L491.7 844.9 L492.9 843.3 L494.1 841.0 L495.3 841.0 L496.5 843.3 L497.7 840.6 L498.9 843.7 L500.1 844.7 L501.3 846.5 L502.5 846.3 L503.7 842.3 L505.0 839.7 L506.2 845.1 L507.4 845.4 L508.6 844.0 L509.8 840.0 L511.0 841.7 L512.2 844.9 L513.4 839.0 L514.6 843.7 L515.8 840.1 L517.0 841.9 L518.2 838.6 L519.4 840.2 L520.6 838.6 L521.8 838.5 L523.0 843.7 L524.2 842.8 L525.4 839.7 L526.6 838.8 L527.8 840.3 L529.0 844.5 L530.2 842.3 L531.4 841.9 L532.6 844.3 L533.8 845.0 L535.0 843.3 L536.2 843.3 L537.4 844.4 L538.6 843.3 L539.9 843.6 L541.1 840.5 L542.3 842.6 L543.5 839.0 L544.7 837.5 L545.9 838.7 L547.1 837.3 L548.3 838.6 L549.5 836.5 L550.7 840.3 L551.9 838.9 L553.1 838.1 L554.3 840.9 L555.5 836.2 L556.7 837.4 L557.9 837.7 L559.1 837.2 L560.3 839.5 L561.5 835.8 L562.7 834.7 L563.9 838.2 L565.1 834.5 L566.3 836.7 L567.5 837.9 L568.7 834.3 L569.9 834.5 L571.1 834.1 L572.3 833.9 L573.5 835.8 L574.8 835.9 L576.0 835.0 L577.2 834.1 L578.4 835.9 L579.6 835.0 L580.8 833.5 L582.0 833.2 L583.2 832.0 L584.4 833.5 L585.6 832.0 L586.8 833.2 L588.0 834.0 L589.2 832.5 L590.4 829.9 L591.6 831.0 L592.8 828.8 L594.0 828.4 L595.2 830.0 L596.4 828.5 L597.6 827.6 L598.8 827.1 L600.0 825.5 L601.2 826.6 L602.4 824.7 L603.6 824.5 L604.8 824.9 L606.0 825.1 L607.2 826.4 L608.5 825.8 L609.7 826.1 L610.9 825.5 L612.1 822.4 L613.3 821.3 L614.5 821.0 L615.7 823.3 L616.9 819.8 L618.1 821.0 L619.3 820.2 L620.5 821.2 L621.7 820.7 L622.9 818.7 L624.1 818.5 L625.3 817.7 L626.5 816.4 L627.7 817.3 L628.9 817.7 L630.1 815.3 L631.3 815.2 L632.5 814.5 L633.7 813.8 L634.9 816.2 L636.1 813.2 L637.3 815.2 L638.5 813.7 L639.7 811.3 L640.9 812.7 L642.1 811.2 L643.4 813.1 L644.6 810.2 L645.8 812.0 L647.0 808.4 L648.2 810.7 L649.4 807.4 L650.6 809.9 L651.8 809.6 L653.0 809.2 L654.2 807.1 L655.4 806.0 L656.6 807.6 L657.8 805.8 L659.0 805.3 L660.2 806.9 L661.4 804.5 L662.6 806.9 L663.8 806.5 L665.0 806.5 L666.2 806.3 L667.4 803.6 L668.6 805.6 L669.8 805.0 L671.0 804.3 L672.2 804.1 L673.4 800.5 L674.6 803.1 L675.8 801.0 L677.1 802.0 L678.3 801.1 L679.5 802.3 L680.7 800.3 L681.9 801.7 L683.1 800.8 L684.3 797.9 L685.5 797.7 L686.7 800.0 L687.9 796.8 L689.1 798.5 L690.3 796.2 L691.5 797.8 L692.7 794.8 L693.9 795.4 L695.1 795.9 L696.3 797.0 L697.5 796.0 L698.7 796.6 L699.9 793.5 L701.1 793.8 L702.3 795.1 L703.5 794.6 L704.7 795.1 L705.9 792.7 L707.1 794.2 L708.3 793.6 L709.5 793.2 L710.7 792.3 L712.0 793.3 L713.2 791.7 L714.4 791.7 L715.6 791.8 L716.8 790.6 L718.0 790.5 L719.2 792.1 L720.4 790.0 L721.6 791.5 L722.8 792.2 L724.0 789.2 L725.2 790.1 L726.4 788.5 L727.6 788.8 L728.8 788.3 L730.0 791.1 L731.2 791.0 L732.4 791.3 L733.6 788.9 L734.8 790.0 L736.0 788.6 L737.2 788.5 L738.4 791.1 L739.6 788.2 L740.8 788.1 L742.0 789.3 L743.2 789.1 L744.4 789.7 L745.7 790.0 L746.9 791.3 L748.1 789.5 L749.3 789.3 L750.5 792.3 L751.7 791.8 L752.9 792.5 L754.1 793.0 L755.3 791.1 L756.5 790.5 L757.7 792.9 L758.9 792.1 L760.1 793.5 L761.3 793.6 L762.5 793.5 L763.7 791.8 L764.9 794.0 L766.1 791.8 L767.3 794.5 L768.5 793.8 L769.7 794.9 L770.9 793.6 L772.1 795.7 L773.3 794.0 L774.5 795.6 L775.7 797.6 L776.9 797.6 L778.1 795.2 L779.3 796.8 L780.6 796.0 L781.8 798.3 L783.0 798.2 L784.2 796.9 L785.4 798.6 L786.6 799.1 L787.8 798.2 L789.0 799.5 L790.2 799.4 L791.4 799.4 L792.6 798.1 L793.8 799.4 L795.0 801.6 L796.2 799.9 L797.4 800.9 L798.6 803.0 L799.8 803.4 L801.0 802.6 L802.2 803.6 L803.4 802.9 L804.6 802.8 L805.8 803.5 L807.0 805.8 L808.2 804.7 L809.4 805.6 L810.6 806.4 L811.8 807.6 L813.0 805.7 L814.2 808.0 L815.5 805.8 L816.7 808.3 L817.9 808.0 L819.1 807.3 L820.3 810.2 L821.5 810.3 L822.7 809.9 L823.9 810.7 L825.1 811.0 L826.3 809.9 L827.5 811.4 L828.7 813.4 L829.9 813.8 L831.1 814.4 L832.3 812.3 L833.5 813.9 L834.7 814.2 L835.9 814.5 L837.1 817.5 L838.3 816.5 L839.5 817.0 L840.7 816.9 L841.9 817.4 L843.1 819.0 L844.3 820.9 L845.5 820.4 L846.7 820.4 L847.9 823.1 L849.2 823.5 L850.4 824.5 L851.6 823.1 L852.8 822.5 L854.0 825.7 L855.2 825.0 L856.4 826.4 L857.6 826.3 L858.8 826.0 L860.0 825.8 L861.2 828.5 L862.4 829.3 L863.6 830.1 L864.8 828.7 L866.0 829.8 L867.2 831.6 L868.4 832.3 L869.6 833.4 L870.8 834.6 L872.0 832.6 L873.2 833.1 L874.4 835.9 L875.6 835.3 L876.8 835.1 L878.0 837.9 L879.2 835.9 L880.4 838.8 L881.6 839.1 L882.8 838.3 L884.1 840.7 L885.3 840.8 L886.5 841.3 L887.7 839.7 L888.9 842.6 L890.1 842.1 L891.3 841.5 L892.5 844.2 L893.7 844.5 L894.9 842.9 L896.1 843.0 L897.3 844.3 L898.5 844.2 L899.7 845.7 L900.9 847.5 L902.1 847.7 L903.3 847.6 L904.5 848.1 L905.7 847.3 L906.9 847.6 L908.1 848.4 L909.3 849.7 L910.5 849.0 L911.7 852.0 L912.9 852.2 L914.1 852.6 L915.3 853.0 L916.5 851.1 L917.8 853.0 L919.0 852.4 L920.2 853.7 L921.4 854.9 L922.6 853.3 L923.8 854.7 L925.0 854.8 L926.2 856.0 L927.4 855.4 L928.6 856.5 L929.8 855.1 L931.0 855.6 L932.2 857.1 L933.4 857.1 L934.6 858.2 L935.8 858.6 L937.0 859.0 L938.2 856.6 L939.4 859.5 L940.6 860.0 L941.8 860.3 L943.0 858.8 L944.2 860.2 L945.4 861.6 L946.6 862.4 L947.8 863.0 L949.0 861.0 L950.2 863.0 L951.4 864.9 L952.7 862.7 L953.9 865.4 L955.1 864.4 L956.3 864.3 L957.5 866.1 L958.7 864.7 L959.9 865.9 L961.1 865.8 L962.3 867.0 L963.5 867.0 L964.7 866.9 L965.9 867.5 L967.1 868.1 L968.3 870.5 L969.5 868.9 L970.7 871.0 L971.9 869.4 L973.1 869.5 L974.3 872.4 L975.5 871.2 L976.7 871.8 L977.9 870.9 L979.1 873.9 L980.3 872.9 L981.5 873.5 L982.7 874.3 L983.9 871.7 L985.1 874.5 L986.4 872.5 L987.6 872.3 L988.8 873.6 L990.0 875.0 L991.2 875.3 L992.4 875.9 L993.6 874.6 L994.8 874.7 L996.0 875.4 L997.2 877.4 L998.4 877.7 L999.6 876.1 L1000.8 879.1 L1002.0 876.7 L1003.2 878.0 L1004.4 879.4 L1005.6 877.4 L1006.8 878.7 L1008.0 877.2 L1009.2 878.1 L1010.4 877.2 L1011.6 879.9 L1012.8 878.1 L1014.0 878.9 L1015.2 878.5 L1016.4 879.7 L1017.6 880.1 L1018.8 880.9 L1020.0 880.7 L1021.3 878.9 L1022.5 878.8 L1023.7 879.9 L1024.9 881.7 L1026.1 880.7 L1027.3 882.4 L1028.5 880.9 L1029.7 880.3 L1030.9 881.1 L1032.1 883.0 L1033.3 883.0 L1034.5 882.9 L1035.7 881.2 L1036.9 880.4 L1038.1 882.9 L1039.3 882.5 L1040.5 880.9 L1041.7 881.6 L1042.9 881.8 L1044.1 883.5 L1045.3 882.3 L1046.5 883.2 L1047.7 884.6 L1048.9 882.3 L1050.1 882.9 L1051.3 883.1 L1052.5 882.6 L1053.7 884.3 L1055.0 884.9 L1056.2 883.3 L1057.4 882.6 L1058.6 883.2 L1059.8 885.2 L1061.0 884.3 L1062.2 884.5 L1063.4 882.8 L1064.6 883.3 L1065.8 884.1 L1067.0 883.3 L1068.2 883.7 L1069.4 885.4 L1070.6 885.0 L1071.8 884.6 L1073.0 883.4 L1074.2 883.6 L1075.4 884.5 L1076.6 883.3 L1077.8 883.0 L1079.0 883.0 L1080.2 885.6 L1081.4 885.6 L1082.6 884.0 L1083.8 885.7 L1085.0 884.3 L1086.2 883.8 L1087.4 884.4 L1088.6 886.7 L1089.9 885.8 L1091.1 887.4 L1092.3 885.8 L1093.5 887.2 L1094.7 886.5 L1095.9 887.1 L1097.1 884.8 L1098.3 884.8 L1099.5 886.3 L1100.7 886.6 L1101.9 884.6 L1103.1 886.0 L1104.3 885.6 L1105.5 886.7 L1106.7 884.6 L1107.9 884.6 L1109.1 884.6 L1110.3 887.0 L1111.5 884.8 L1112.7 886.0 L1113.9 887.6 L1115.1 885.2 L1116.3 887.9 L1117.5 886.4 L1118.7 885.8 L1119.9 887.2 L1121.1 886.1 L1122.3 887.7 L1123.5 887.7 L1124.8 887.5 L1126.0 886.5 L1127.2 887.4 L1128.4 888.2 L1129.6 885.8 L1130.8 888.2 L1132.0 885.9 L1133.2 887.6 L1134.4 885.7 L1135.6 887.9 L1136.8 887.3 L1138.0 886.1 L1139.2 888.5 L1140.4 886.8 L1141.6 886.0 L1142.8 886.7 L1144.0 888.3 L1145.2 888.3 L1146.4 886.2 L1147.6 886.6 L1148.8 888.6 L1150.0 886.6 L1151.2 887.2 L1152.4 888.5 L1153.6 887.4 L1154.8 886.2 L1156.0 886.5 L1157.2 887.1 L1158.5 886.6 L1159.7 888.8 L1160.9 889.1 L1162.1 888.9 L1163.3 888.8 L1164.5 888.0 L1165.7 888.4 L1166.9 886.3 L1168.1 886.3 L1169.3 886.0 L1170.5 886.0 L1171.7 885.7 L1172.9 887.4 L1174.1 888.3 L1175.3 888.4 L1176.5 888.1 L1177.7 887.1 L1178.9 886.3 L1180.1 886.6 L1181.3 886.9 L1182.5 888.2 L1183.7 887.6 L1184.9 888.1 L1186.1 886.6 L1187.3 888.4 L1188.5 888.5 L1189.7 887.5 L1190.9 887.8 L1192.1 888.1 L1193.4 889.2 L1194.6 889.0 L1195.8 887.8 L1197.0 887.7 L1198.2 888.4 L1199.4 886.6 L1200.6 886.6 L1201.8 888.8 L1203.0 886.5 L1204.2 888.8 L1205.4 888.1 L1206.6 888.0 L1207.8 889.0 L1209.0 886.8 L1210.2 889.3 L1211.4 887.5 L1212.6 887.0 L1213.8 887.1 L1215.0 888.1 L1216.2 887.3 L1217.4 887.2 L1218.6 887.2 L1219.8 887.3 L1221.0 889.0 L1222.2 887.2 L1223.4 889.0 L1224.6 887.0 L1225.8 888.7 L1227.1 887.7 L1228.3 886.9 L1229.5 887.6 L1230.7 887.1 L1231.9 888.8 L1233.1 888.2 L1234.3 888.7 L1235.5 889.1 L1236.7 887.3 L1237.9 889.5 L1239.1 889.7 L1240.3 889.5 L1241.5 887.2 L1242.7 889.1 L1243.9 889.6 L1245.1 887.7 L1246.3 889.6 L1247.5 889.5 L1248.7 887.1 L1249.9 888.7 L1251.1 887.2 L1252.3 888.7 L1253.5 888.5 L1254.7 890.0 L1255.9 888.5 L1257.1 890.1 L1258.3 890.1 L1259.5 887.6 L1260.7 888.6 L1262.0 888.5 L1263.2 889.5 L1264.4 887.7 L1265.6 887.9 L1266.8 889.8 L1268.0 888.1 L1269.2 890.0 L1270.4 887.6 L1271.6 890.0 L1272.8 888.7 L1274.0 888.0 L1275.2 887.9 L1276.4 890.0 L1277.6 889.4 L1278.8 889.9 L1280.0 887.3 L1281.2 889.7 L1282.4 889.1 L1283.6 887.8 L1284.8 889.6 L1286.0 888.2 L1287.2 889.8 L1288.4 889.3 L1289.6 888.3 L1290.8 889.6 L1292.0 889.9 L1293.2 887.8 L1294.4 887.8 L1295.7 889.3 L1296.9 889.2 L1298.1 888.0 L1299.3 887.9 L1300.5 889.9 L1301.7 889.1 L1302.9 888.6 L1304.1 889.4 L1305.3 889.7 L1306.5 889.6 L1307.7 887.5 L1308.9 889.8 L1310.1 889.3 L1311.3 887.9 L1312.5 889.9 L1313.7 890.3 L1314.9 890.0 L1316.1 888.3 L1317.3 888.4 L1318.5 890.0 L1319.7 889.1 L1320.9 887.9 L1322.1 887.6 L1323.3 888.2 L1324.5 888.2 L1325.7 890.3 L1326.9 890.4 L1328.1 889.8 L1329.3 889.8 L1330.6 890.3 L1331.8 890.0 L1333.0 888.6 L1334.2 888.9 L1335.4 890.2 L1336.6 889.0 L1337.8 888.1 L1339.0 890.4 L1340.2 888.3 L1341.4 890.3 L1342.6 889.9 L1343.8 888.0 L1345.0 889.8 L1346.2 887.5 L1347.4 889.0 L1348.6 887.2 L1349.8 889.5 L1351.0 887.5 L1352.2 889.1 L1353.4 887.6 L1354.6 887.5 L1355.8 889.8 L1357.0 888.0 L1358.2 889.9 L1359.4 888.4 L1360.6 890.6 L1361.8 889.0 L1363.0 890.2 L1364.2 889.5 L1365.5 888.4 L1366.7 887.9 L1367.9 888.1 L1369.1 889.6 L1370.3 889.4 L1371.5 887.6 L1372.7 889.4 L1373.9 887.5 L1375.1 887.9 L1376.3 889.4 L1377.5 888.4 L1378.7 889.2 L1379.9 887.5 L1381.1 888.4 L1382.3 887.9 L1383.5 887.9 L1384.7 889.2 L1385.9 890.4 L1387.1 888.9 L1388.3 890.0 L1389.5 887.7 L1390.7 887.4 L1391.9 889.6 L1393.1 888.9 L1394.3 887.3 L1395.5 887.4 L1396.7 889.9 L1397.9 890.1 L1399.2 888.1 L1400.4 888.5 L1401.6 888.0 L1402.8 889.2 L1404.0 890.2 L1405.2 887.7 L1406.4 889.5 L1407.6 890.1 L1408.8 889.7 L1410.0 890.0 L1411.2 889.6 L1412.4 889.8 L1413.6 888.4 L1414.8 889.1 L1416.0 889.1"/>
<path class="c" stroke="#008000" d="M212.5 532.4 L213.7 563.0 L214.9 532.4 L216.1 563.0 L217.3 533.7 L218.5 553.0 L219.7 525.0 L220.9 549.1 L222.1 547.1 L223.3 533.9 L224.5 551.3 L225.7 540.0 L226.9 556.0 L228.1 538.4 L229.3 539.0 L230.6 534.0 L231.8 559.0 L233.0 527.6 L234.2 522.9 L235.4 517.8 L236.6 527.3 L237.8 571.3 L239.0 573.0 L240.2 548.0 L241.4 551.1 L242.6 564.0 L243.8 558.0 L245.0 568.7 L246.2 576.7 L247.4 580.0 L248.6 581.0 L249.8 538.5 L251.0 581.3 L252.2 574.2 L253.4 551.0 L254.6 583.0 L255.8 574.5 L257.0 546.0 L258.2 551.1 L259.4 587.8 L260.6 592.5 L261.8 560.0 L263.0 559.4 L264.3 580.2 L265.5 565.1 L266.7 562.3 L267.9 553.0 L269.1 590.4 L270.3 575.5 L271.5 565.0 L272.7 589.0 L273.9 572.9 L275.1 566.0 L276.3 584.6 L277.5 564.0 L278.7 592.5 L279.9 595.4 L281.1 594.4 L282.3 600.5 L283.5 586.0 L284.7 591.1 L285.9 607.0 L287.1 594.2 L288.3 595.7 L289.5 596.0 L290.7 612.7 L291.9 617.0 L293.1 620.0 L294.3 621.3 L295.5 631.6 L296.7 613.0 L297.9 617.9 L299.2 627.7 L300.4 622.7 L301.6 641.4 L302.8 612.0 L304.0 614.0 L305.2 649.6 L306.4 637.6 L307.6 655.2 L308.8 648.0 L310.0 660.2 L311.2 651.0 L312.4 674.5 L313.6 657.9 L314.8 672.4 L316.0 681.2 L317.2 683.5 L318.4 672.0 L319.6 667.5 L320.8 674.1 L322.0 671.8 L323.2 693.7 L324.4 700.7 L325.6 703.8 L326.8 698.7 L328.0 696.5 L329.2 713.6 L330.4 713.6 L331.6 710.3 L332.9 706.8 L334.1 714.1 L335.3 722.3 L336.5 732.8 L337.7 713.6 L338.9 734.0 L340.1 726.1 L341.3 736.4 L342.5 721.3 L343.7 733.4 L344.9 742.5 L346.1 750.1 L347.3 742.8 L348.5 753.0 L349.7 753.8 L350.9 758.9 L352.1 757.6 L353.3 759.0 L354.5 765.7 L355.7 763.6 L356.9 766.3 L358.1 775.7 L359.3 779.5 L360.5 774.0 L361.7 780.7 L362.9 779.8 L364.1 785.2 L365.3 776.8 L366.5 786.8 L367.8 786.9 L369.0 789.7 L370.2 792.9 L371.4 798.4 L372.6 791.7 L373.8 801.2 L375.0 799.3 L376.2 795.9 L377.4 798.8 L378.6 805.6 L379.8 807.7 L381.0 801.2 L382.2 802.1 L383.4 809.8 L384.6 808.3 L385.8 812.4 L387.0 813.9 L388.2 813.5 L389.4 813.6 L390.6 810.3 L391.8 810.8 L393.0 818.2 L394.2 811.7 L395.4 818.8 L396.6 815.1 L397.8 821.8 L399.0 821.7 L400.2 820.5 L401.4 815.9 L402.7 823.4 L403.9 817.2 L405.1 825.3 L406.3 820.3 L407.5 820.1 L408.7 824.1 L409.9 821.5 L411.1 823.1 L412.3 829.5 L413.5 829.7 L414.7 823.9 L415.9 830.3 L417.1 829.7 L418.3 830.4 L419.5 828.2 L420.7 832.2 L421.9 826.5 L423.1 826.3 L424.3 826.8 L425.5 831.2 L426.7 830.2 L427.9 835.7 L429.1 829.2 L430.3 829.3 L431.5 835.0 L432.7 830.0 L433.9 830.2 L435.1 837.5 L436.4 830.4 L437.6 834.5 L438.8 831.1 L440.0 832.6 L441.2 831.6 L442.4 839.0 L443.6 836.0 L444.8 836.0 L446.0 832.3 L447.2 832.4 L448.4 833.0 L449.6 837.6 L450.8 835.7 L452.0 837.2 L453.2 839.5 L454.4 840.6 L455.6 836.2 L456.8 833.8 L458.0 840.9 L459.2 833.5 L460.4 833.8 L461.6 839.6 L462.8 833.9 L464.0 840.9 L465.2 840.8 L466.4 837.1 L467.6 833.5 L468.8 834.7 L470.0 832.6 L471.3 836.3 L472.5 837.8 L473.7 839.7 L474.9 831.9 L476.1 838.4 L477.3 833.1 L478.5 831.2 L479.7 836.2 L480.9 831.0 L482.1 835.8 L483.3 838.0 L484.5 830.6 L485.7 836.8 L486.9 834.9 L488.1 833.7 L489.3 829.3 L490.5 835.4 L491.7 833.8 L492.9 834.0 L494.1 828.6 L495.3 832.6 L496.5 831.2 L497.7 831.9 L498.9 827.2 L500.1 826.6 L501.3 827.2 L502.5 826.0 L503.7 826.1 L505.0 824.2 L506.2 824.2 L507.4 824.0 L508.6 826.3 L509.8 822.5 L511.0 824.0 L512.2 827.2 L513.4 824.2 L514.6 825.2 L515.8 823.4 L517.0 823.2 L518.2 821.7 L519.4 822.6 L520.6 818.2 L521.8 819.1 L523.0 820.4 L524.2 812.4 L525.4 817.8 L526.6 818.0 L527.8 813.2 L529.0 811.5 L530.2 809.8 L531.4 815.9 L532.6 813.9 L533.8 812.4 L535.0 812.6 L536.2 810.8 L537.4 810.5 L538.6 805.8 L539.9 805.3 L541.1 805.1 L542.3 803.9 L543.5 802.9 L544.7 802.8 L545.9 802.7 L547.1 800.4 L548.3 803.6 L549.5 798.8 L550.7 797.7 L551.9 797.0 L553.1 795.1 L554.3 797.4 L555.5 797.6 L556.7 796.3 L557.9 795.3 L559.1 789.6 L560.3 788.3 L561.5 791.9 L562.7 788.3 L563.9 785.9 L565.1 788.5 L566.3 787.1 L567.5 783.7 L568.7 785.7 L569.9 784.8 L571.1 784.2 L572.3 781.3 L573.5 781.7 L574.8 780.0 L576.0 779.3 L577.2 777.2 L578.4 775.7 L579.6 774.9 L580.8 773.0 L582.0 775.2 L583.2 771.7 L584.4 772.2 L585.6 771.6 L586.8 768.9 L588.0 768.1 L589.2 765.2 L590.4 763.5 L591.6 764.6 L592.8 761.8 L594.0 763.2 L595.2 761.0 L596.4 759.9 L597.6 759.7 L598.8 760.5 L600.0 758.6 L601.2 757.2 L602.4 753.7 L603.6 755.3 L604.8 753.9 L606.0 749.5 L607.2 750.3 L608.5 747.8 L609.7 748.4 L610.9 744.1 L612.1 743.4 L613.3 744.1 L614.5 740.6 L615.7 741.9 L616.9 741.3 L618.1 737.4 L619.3 735.8 L620.5 737.6 L621.7 733.5 L622.9 734.8 L624.1 732.3 L625.3 732.0 L626.5 728.6 L627.7 727.4 L628.9 725.4 L630.1 725.1 L631.3 722.9 L632.5 721.6 L633.7 720.3 L634.9 719.7 L636.1 718.9 L637.3 716.9 L638.5 716.2 L639.7 713.2 L640.9 715.1 L642.1 713.8 L643.4 711.8 L644.6 711.1 L645.8 707.6 L647.0 708.6 L648.2 706.8 L649.4 705.9 L650.6 702.7 L651.8 702.8 L653.0 702.0 L654.2 701.0 L655.4 696.7 L656.6 697.5 L657.8 697.0 L659.0 693.7 L660.2 695.6 L661.4 691.6 L662.6 692.8 L663.8 690.2 L665.0 691.1 L666.2 691.1 L667.4 689.8 L668.6 688.5 L669.8 683.8 L671.0 684.1 L672.2 684.5 L673.4 682.1 L674.6 679.9 L675.8 679.9 L677.1 680.3 L678.3 677.4 L679.5 676.7 L680.7 677.8 L681.9 676.6 L683.1 676.1 L684.3 674.4 L685.5 671.7 L686.7 673.7 L687.9 672.6 L689.1 669.6 L690.3 669.1 L691.5 670.8 L692.7 669.1 L693.9 666.1 L695.1 667.5 L696.3 667.6 L697.5 664.3 L698.7 664.6 L699.9 665.9 L701.1 665.6 L702.3 663.1 L703.5 665.4 L704.7 661.7 L705.9 662.9 L707.1 662.4 L708.3 662.8 L709.5 662.2 L710.7 658.4 L712.0 659.2 L713.2 657.3 L714.4 656.5 L715.6 656.1 L716.8 655.4 L718.0 657.8 L719.2 656.1 L720.4 657.0 L721.6 653.8 L722.8 655.8 L724.0 653.3 L725.2 655.4 L726.4 652.2 L727.6 653.1 L728.8 652.9 L730.0 654.5 L731.2 652.0 L732.4 653.4 L733.6 654.8 L734.8 652.1 L736.0 652.4 L737.2 654.9 L738.4 656.4 L739.6 656.5 L740.8 656.0 L742.0 654.5 L743.2 656.1 L744.4 656.7 L745.7 653.9 L746.9 655.7 L748.1 654.1 L749.3 656.0 L750.5 657.6 L751.7 656.9 L752.9 655.6 L754.1 656.4 L755.3 660.1 L756.5 659.1 L757.7 658.9 L758.9 660.4 L760.1 660.1 L761.3 660.3 L762.5 664.3 L763.7 665.0 L764.9 663.4 L766.1 666.7 L767.3 665.4 L768.5 667.2 L769.7 667.2 L770.9 669.3 L772.1 667.8 L773.3 669.0 L774.5 670.9 L775.7 670.0 L776.9 669.5 L778.1 673.8 L779.3 673.7 L780.6 674.5 L781.8 676.1 L783.0 677.2 L784.2 676.1 L785.4 678.5 L786.6 679.4 L787.8 679.1 L789.0 680.3 L790.2 680.0 L791.4 679.2 L792.6 680.9 L793.8 681.1 L795.0 681.7 L796.2 685.7 L797.4 686.3 L798.6 687.4 L799.8 687.3 L801.0 688.9 L802.2 686.8 L803.4 689.6 L804.6 690.8 L805.8 693.5 L807.0 692.4 L808.2 693.8 L809.4 694.9 L810.6 696.0 L811.8 697.7 L813.0 698.9 L814.2 701.5 L815.5 701.2 L816.7 704.7 L817.9 705.2 L819.1 708.0 L820.3 708.4 L821.5 710.5 L822.7 711.6 L823.9 713.6 L825.1 714.5 L826.3 714.3 L827.5 716.2 L828.7 716.1 L829.9 717.3 L831.1 719.4 L832.3 723.0 L833.5 724.1 L834.7 726.0 L835.9 725.0 L837.1 726.3 L838.3 727.3 L839.5 731.3 L840.7 732.4 L841.9 732.7 L843.1 733.4 L844.3 737.1 L845.5 737.2 L846.7 739.9 L847.9 741.4 L849.2 742.8 L850.4 741.5 L851.6 743.4 L852.8 747.0 L854.0 745.6 L855.2 749.9 L856.4 749.2 L857.6 752.4 L858.8 752.2 L860.0 753.2 L861.2 754.8 L862.4 758.1 L863.6 758.8 L864.8 760.6 L866.0 762.2 L867.2 766.1 L868.4 768.5 L869.6 769.1 L870.8 770.0 L872.0 772.7 L873.2 771.9 L874.4 776.1 L875.6 776.8 L876.8 778.0 L878.0 778.6 L879.2 783.0 L880.4 782.9 L881.6 784.3 L882.8 785.8 L884.1 790.1 L885.3 791.9 L886.5 792.5 L887.7 793.0 L888.9 794.2 L890.1 798.0 L891.3 798.8 L892.5 799.2 L893.7 802.5 L894.9 803.3 L896.1 803.0 L897.3 805.0 L898.5 805.9 L899.7 808.4 L900.9 808.4 L902.1 810.7 L903.3 811.7 L904.5 812.6 L905.7 812.4 L906.9 815.4 L908.1 817.4 L909.3 816.4 L910.5 818.2 L911.7 820.8 L912.9 823.4 L914.1 824.6 L915.3 823.5 L916.5 826.0 L917.8 828.1 L919.0 827.8 L920.2 828.9 L921.4 831.1 L922.6 829.8 L923.8 830.9 L925.0 833.7 L926.2 834.3 L927.4 834.1 L928.6 836.1 L929.8 836.5 L931.0 838.8 L932.2 839.5 L933.4 839.3 L934.6 842.9 L935.8 841.3 L937.0 844.7 L938.2 843.7 L939.4 844.8 L940.6 845.6 L941.8 847.4 L943.0 847.9 L944.2 849.1 L945.4 850.3 L946.6 854.3 L947.8 853.0 L949.0 854.0 L950.2 856.5 L951.4 855.3 L952.7 858.9 L953.9 858.2 L955.1 858.4 L956.3 857.8 L957.5 858.4 L958.7 861.0 L959.9 861.2 L961.1 863.4 L962.3 863.6 L963.5 865.3 L964.7 867.9 L965.9 866.1 L967.1 868.0 L968.3 869.7 L969.5 867.9 L970.7 868.6 L971.9 870.0 L973.1 869.5 L974.3 870.5 L975.5 873.4 L976.7 873.0 L977.9 872.5 L979.1 872.6 L980.3 874.3 L981.5 874.0 L982.7 874.8 L983.9 877.4 L985.1 878.0 L986.4 877.1 L987.6 877.7 L988.8 877.1 L990.0 880.2 L991.2 877.9 L992.4 879.6 L993.6 879.2 L994.8 879.9 L996.0 880.4 L997.2 880.5 L998.4 882.0 L999.6 882.4 L1000.8 882.4 L1002.0 881.1 L1003.2 881.7 L1004.4 882.6 L1005.6 882.0 L1006.8 883.9 L1008.0 883.0 L1009.2 883.8 L1010.4 885.3 L1011.6 883.9 L1012.8 886.4 L1014.0 886.8 L1015.2 884.6 L1016.4 887.5 L1017.6 885.1 L1018.8 885.9 L1020.0 885.7 L1021.3 886.9 L1022.5 888.0 L1023.7 888.4 L1024.9 888.2 L1026.1 887.3 L1027.3 888.3 L1028.5 888.5 L1029.7 888.7 L1030.9 886.5 L1032.1 887.6 L1033.3 889.4 L1034.5 890.0 L1035.7 890.3 L1036.9 888.5 L1038.1 889.8 L1039.3 890.6 L1040.5 889.7 L1041.7 891.1 L1042.9 890.9 L1044.1 888.8 L1045.3 890.8 L1046.5 890.6 L1047.7 889.2 L1048.9 890.2 L1050.1 889.8 L1051.3 891.7 L1052.5 890.4 L1053.7 891.1 L1055.0 890.1 L1056.2 891.3 L1057.4 890.8 L1058.6 891.9 L1059.8 890.9 L1061.0 890.1 L1062.2 890.3 L1063.4 890.6 L1064.6 891.8 L1065.8 892.8 L1067.0 892.1 L1068.2 891.3 L1069.4 891.2 L1070.6 892.5 L1071.8 891.5 L1073.0 891.2 L1074.2 892.5 L1075.4 892.0 L1076.6 892.0 L1077.8 891.5 L1079.0 892.0 L1080.2 892.6 L1081.4 891.4 L1082.6 891.9 L1083.8 892.7 L1085.0 890.9 L1086.2 892.8 L1087.4 892.4 L1088.6 892.6 L1089.9 893.0 L1091.1 892.0 L1092.3 891.5 L1093.5 892.2 L1094.7 891.6 L1095.9 891.7 L1097.1 892.5 L1098.3 893.3 L1099.5 893.3 L1100.7 892.6 L1101.9 893.0 L1103.1 892.8 L1104.3 892.3 L1105.5 891.5 L1106.7 893.3 L1107.9 893.5 L1109.1 893.6 L1110.3 892.9 L1111.5 893.8 L1112.7 892.1 L1113.9 892.9 L1115.1 893.2 L1116.3 893.2 L1117.5 892.0 L1118.7 892.1 L1119.9 893.4 L1121.1 891.5 L1122.3 892.7 L1123.5 891.8 L1124.8 892.1 L1126.0 891.8 L1127.2 893.0 L1128.4 893.2 L1129.6 891.9 L1130.8 892.2 L1132.0 893.6 L1133.2 893.6 L1134.4 893.1 L1135.6 892.6 L1136.8 893.8 L1138.0 893.3 L1139.2 892.5 L1140.4 892.6 L1141.6 893.3 L1142.8 892.4 L1144.0 894.1 L1145.2 893.2 L1146.4 892.8 L1147.6 893.7 L1148.8 892.9 L1150.0 894.2 L1151.2 893.0 L1152.4 893.8 L1153.6 892.4 L1154.8 891.9 L1156.0 892.3 L1157.2 891.6 L1158.5 893.0 L1159.7 893.6 L1160.9 891.9 L1162.1 892.3 L1163.3 892.1 L1164.5 893.2 L1165.7 893.8 L1166.9 893.7 L1168.1 893.8 L1169.3 893.9 L1170.5 892.8 L1171.7 893.7 L1172.9 894.0 L1174.1 893.6 L1175.3 892.8 L1176.5 892.5 L1177.7 892.0 L1178.9 892.5 L1180.1 893.0 L1181.3 892.2 L1182.5 893.3 L1183.7 893.7 L1184.9 891.8 L1186.1 891.8 L1187.3 892.1 L1188.5 892.9 L1189.7 891.8 L1190.9 893.1 L1192.1 893.5 L1193.4 893.5 L1194.6 893.2 L1195.8 892.8 L1197.0 892.4 L1198.2 892.5 L1199.4 893.6 L1200.6 893.4 L1201.8 894.0 L1203.0 892.2 L1204.2 893.3 L1205.4 894.2 L1206.6 892.8 L1207.8 893.1 L1209.0 893.9 L1210.2 893.9 L1211.4 894.7 L1212.6 893.0 L1213.8 894.4 L1215.0 894.5 L1216.2 894.4 L1217.4 892.9 L1218.6 893.4 L1219.8 893.5 L1221.0 892.5 L1222.2 893.5 L1223.4 893.0 L1224.6 893.6 L1225.8 892.2 L1227.1 892.7 L1228.3 892.4 L1229.5 892.6 L1230.7 892.2 L1231.9 892.3 L1233.1 894.2 L1234.3 893.9 L1235.5 894.3 L1236.7 893.7 L1237.9 892.7 L1239.1 894.5 L1240.3 894.5 L1241.5 893.7 L1242.7 893.6 L1243.9 892.5 L1245.1 893.9 L1246.3 893.5 L1247.5 892.2 L1248.7 892.6 L1249.9 892.2 L1251.1 894.1 L1252.3 893.2 L1253.5 894.2 L1254.7 892.8 L1255.9 892.6 L1257.1 894.2 L1258.3 892.7 L1259.5 892.6 L1260.7 892.2 L1262.0 893.7 L1263.2 892.1 L1264.4 893.9 L1265.6 892.4 L1266.8 892.1 L1268.0 894.0 L1269.2 894.2 L1270.4 894.1 L1271.6 893.2 L1272.8 892.5 L1274.0 893.5 L1275.2 892.9 L1276.4 892.4 L1277.6 894.1 L1278.8 893.6 L1280.0 893.8 L1281.2 892.8 L1282.4 892.8 L1283.6 893.4 L1284.8 893.0 L1286.0 892.9 L1287.2 893.6 L1288.4 893.6 L1289.6 893.9 L1290.8 893.5 L1292.0 893.9 L1293.2 892.2 L1294.4 892.7 L1295.7 893.9 L1296.9 893.1 L1298.1 893.3 L1299.3 892.6 L1300.5 893.4 L1301.7 893.2 L1302.9 893.3 L1304.1 894.4 L1305.3 894.4 L1306.5 892.8 L1307.7 894.6 L1308.9 894.5 L1310.1 893.0 L1311.3 892.9 L1312.5 892.8 L1313.7 894.3 L1314.9 894.2 L1316.1 892.4 L1317.3 894.1 L1318.5 892.2 L1319.7 892.0 L1320.9 893.8 L1322.1 892.9 L1323.3 892.5 L1324.5 892.2 L1325.7 892.8 L1326.9 893.3 L1328.1 894.4 L1329.3 892.4 L1330.6 893.7 L1331.8 892.9 L1333.0 894.2 L1334.2 894.3 L1335.4 893.0 L1336.6 892.7 L1337.8 892.7 L1339.0 892.7 L1340.2 893.3 L1341.4 892.6 L1342.6 892.8 L1343.8 894.1 L1345.0 894.5 L1346.2 892.6 L1347.4 894.0 L1348.6 893.5 L1349.8 894.0 L1351.0 893.7 L1352.2 892.1 L1353.4 892.1 L1354.6 893.1 L1355.8 892.2 L1357.0 894.1 L1358.2 894.1 L1359.4 892.4 L1360.6 892.5 L1361.8 893.8 L1363.0 892.7 L1364.2 893.4 L1365.5 893.0 L1366.7 892.4 L1367.9 892.5 L1369.1 894.0 L1370.3 892.2 L1371.5 892.9 L1372.7 892.7 L1373.9 894.0 L1375.1 892.4 L1376.3 892.6 L1377.5 893.4 L1378.7 894.3 L1379.9 894.2 L1381.1 894.3 L1382.3 892.8 L1383.5 894.1 L1384.7 892.9 L1385.9 894.5 L1387.1 894.6 L1388.3 893.4 L1389.5 893.7 L1390.7 892.7 L1391.9 894.3 L1393.1 894.4 L1394.3 894.1 L1395.5 893.2 L1396.7 894.3 L1397.9 892.9 L1399.2 892.9 L1400.4 892.7 L1401.6 894.6 L1402.8 892.7 L1404.0 893.0 L1405.2 893.0 L1406.4 894.4 L1407.6 892.8 L1408.8 893.1 L1410.0 892.9 L1411.2 894.1 L1412.4 894.3 L1413.6 892.7 L1414.8 893.7 L1416.0 893.5"/>
</g>
<g font-size="59.4" text-anchor="middle">
<text transform="translate(212.5 967.1) scale(1 1.02)">300</text>
<text transform="translate(453.2 967.1) scale(1 1.02)">400</text>
<text transform="translate(693.9 967.1) scale(1 1.02)">500</text>
<text transform="translate(934.6 967.1) scale(1 1.02)">600</text>
<text transform="translate(1175.3 967.1) scale(1 1.02)">700</text>
<text transform="translate(1416.0 967.1) scale(1 1.02)">800</text>
</g>
<g font-size="59.4" text-anchor="end">
<text transform="translate(187.7 912.6) scale(1 1.035)">0.0</text>
<text transform="translate(187.7 740.4) scale(1 1.035)">0.4</text>
<text transform="translate(187.7 568.3) scale(1 1.035)">0.8</text>
<text transform="translate(187.7 396.1) scale(1 1.035)">1.2</text>
<text transform="translate(187.7 224.0) scale(1 1.035)">1.6</text>
<text transform="translate(187.7 51.8) scale(1 1.035)">2.0</text>
</g>
<text transform="translate(766.9 1037.6) scale(1 1.02)" font-size="68.5" font-weight="bold" text-anchor="start">(nm)</text>
<text transform="translate(711.8 1037.6) scale(1.14 1)" font-size="61.5" stroke="#000" stroke-width="0.9" style="font-family:'Liberation Serif','DejaVu Serif',serif">λ</text>
<text transform="translate(64.9 513.7) rotate(-90) scale(1 1.04)" font-size="69.5" font-weight="bold" text-anchor="middle">Abs</text>
<path class="lg" stroke="#0000ff" d="M846.9 114.0 H1000.4"/>
<text transform="translate(1018.6 138.1) scale(1 1.022)" font-size="69.5">N719</text>
<path class="lg" stroke="#ff0000" d="M846.9 199.0 H1000.4"/>
<text transform="translate(1018.6 223.1) scale(1 1.022)" font-size="69.5">Beetroot 1</text>
<path class="lg" stroke="#ff8000" d="M846.9 284.9 H1000.4"/>
<text transform="translate(1018.6 308.5) scale(1 1.022)" font-size="69.5">Beetroot 2</text>
<path class="lg" stroke="#008000" d="M846.9 370.3 H1000.4"/>
<text transform="translate(1018.6 394.3) scale(1 1.022)" font-size="69.5">Beetroot 3</text>
</svg></body></html>
